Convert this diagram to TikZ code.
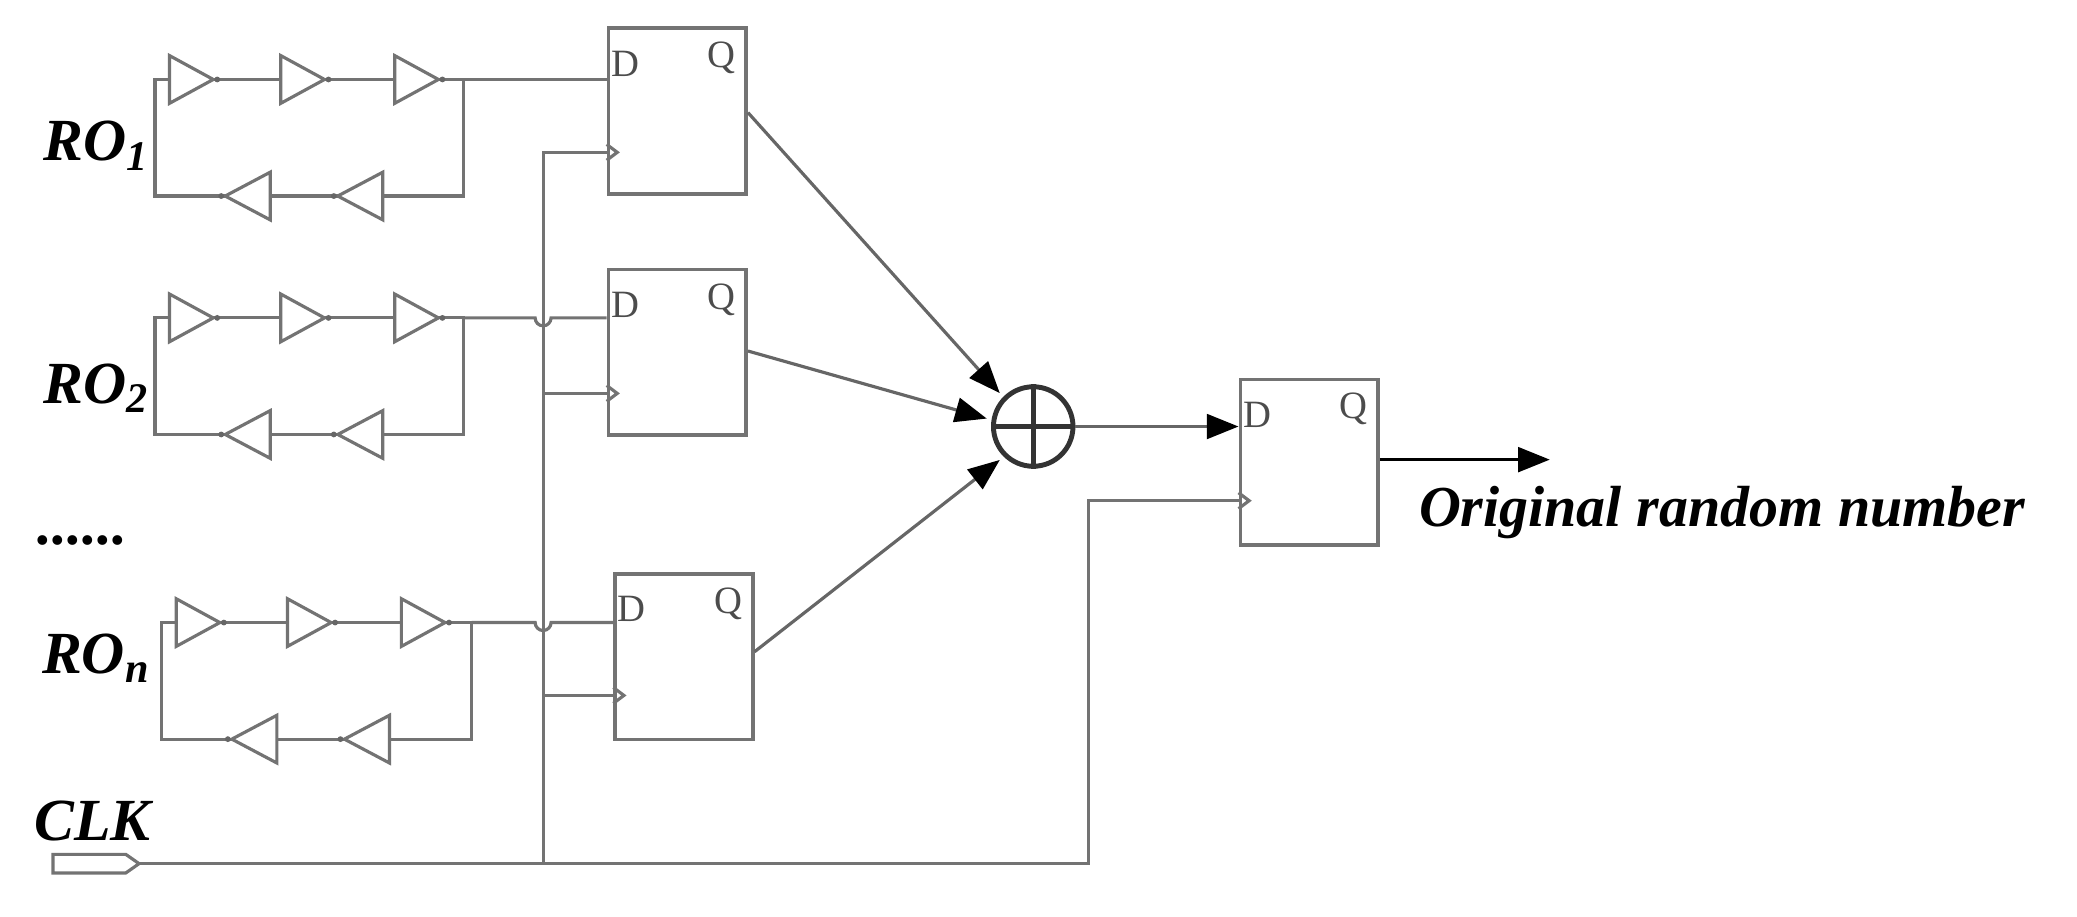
\documentclass[tikz,border=0pt]{standalone}
\usepackage{fontspec}
\setmainfont{Liberation Serif}
\usetikzlibrary{arrows.meta,calc}
\tikzset{
  wire/.style={draw=black!55, line width=0.9pt},
  bufstyle/.style={draw=black!55, line width=0.9pt, fill=white},
  dff/.style={draw=black!55, line width=1pt, minimum width=1.3776cm, minimum height=1.6558cm, inner sep=0pt},
  pinlbl/.style={font=\fontsize{11}{11}\selectfont, text=black!70, inner sep=0pt},
  biglbl/.style={font=\fontsize{17}{17}\selectfont\bfseries\itshape, inner sep=0pt},
  sig/.style={draw=black!60, line width=0.9pt, -{Triangle[length=9pt,width=7pt,fill=black,color=black]}},
}
\newcommand\sub[1]{\raisebox{-0.35ex}{\fontsize{12}{12}\selectfont #1}}
% ring oscillator: xl, yt, yb, xs, xr
\newcommand\ringosc[5]{%
  \draw[wire] (#1,#2) rectangle (#5,#3);
  \foreach \kk in {0,84,170}{
    \draw[bufstyle] ({#4+\kk},{#2-18}) -- ({#4+\kk+33},#2) -- ({#4+\kk},{#2+18}) -- cycle;
    \fill[black!60] ({#4+\kk+36},#2) circle[radius=2.2];
  }
  \foreach \kk in {42,127}{
    \draw[bufstyle] ({#4+\kk+34},{#3-18}) -- ({#4+\kk},#3) -- ({#4+\kk+34},{#3+18}) -- cycle;
    \fill[black!60] ({#4+\kk-3},#3) circle[radius=2.2];
  }
}
\newcommand\dffbox[3]{% name, west x, top y
  \node[dff, anchor=north west] (#1) at (#2,#3) {};
  \node[pinlbl] at ($(#1.north west)+(14,28)$) {D};
  \node[pinlbl] at ($(#1.north east)+(-20,24)$) {Q};
}
\begin{document}
\begin{tikzpicture}[x=0.013246cm, y=-0.013246cm]
\useasboundingbox (0,0) rectangle (1568,692);
% ring oscillators
\ringosc{117}{60}{148}{128}{350}
\ringosc{117}{240}{328}{128}{350}
\ringosc{122}{470}{558}{133}{356}
\node[biglbl] (ro1) at (72,110) {RO\sub{1}};
\node[biglbl] (ro2) at (72,293) {RO\sub{2}};
\node[biglbl] (ron) at (72,497) {RO\sub{n}};
\node[biglbl] (dots) at (62,408) {......};
\node[biglbl] (clk) at (70,620) {CLK};
% flip flops
\dffbox{ff1}{458}{20}
\dffbox{ff2}{458}{202}
\dffbox{ff3}{463}{432}
\dffbox{ff4}{935}{285}
% clock pins
\foreach \n/\y in {ff1/115,ff2/297,ff3/525,ff4/378}{
  \draw[wire] ($(\n.west|-0,\y)+(0,-6)$) -- ++(8,6) -- ++(-8,6);
}
% D lines (with hops over the bus)
\draw[wire] (350,60) -- (ff1.west|-0,60);
\draw[wire] (350,240) -- (404,240) arc[start angle=180,end angle=0,radius=6] -- (ff2.west|-0,240);
\draw[wire] (356,470) -- (404,470) arc[start angle=180,end angle=0,radius=6] -- (ff3.west|-0,470);
% clock input
\coordinate (bus) at (410,652);
\draw[wire] (40,645) -- (95,645) -- (105,652) -- (95,659) -- (40,659) -- cycle;
\draw[wire] (105,652) -- (822,652) -- (822,378) -- (ff4.west|-0,378);
\draw[wire] (bus) -- (410,115) -- (ff1.west|-0,115);
\draw[wire] (410,297) -- (ff2.west|-0,297);
\draw[wire] (410,525) -- (ff3.west|-0,525);
% XOR
\node[draw=black!80, line width=1.4pt, circle, minimum size=0.795cm, inner sep=0pt] (xor) at (780,322) {};
\draw[black!80, line width=1.4pt] (xor.north) -- (xor.south) (xor.west) -- (xor.east);
\draw[sig] (ff1.east|-0,85) -- ($(xor.center)!1.12!(xor.north west)$);
\draw[sig] (ff2.east|-0,265) -- ($(xor.center)!1.1!(xor.west)+(0,-6)$);
\draw[sig] (ff3.east|-0,492) -- ($(xor.center)!1.12!(xor.south west)$);
\draw[sig] (xor.east) -- (ff4.west|-0,322);
% output
\coordinate (outend) at (1170,347);
\draw[sig, draw=black] (ff4.east|-0,347) -- (outend);
\node[font=\fontsize{16.5}{16.5}\selectfont\bfseries\itshape, inner sep=0pt] (outlbl) at (1300,387) {Original random number};
\end{tikzpicture}
\end{document}
